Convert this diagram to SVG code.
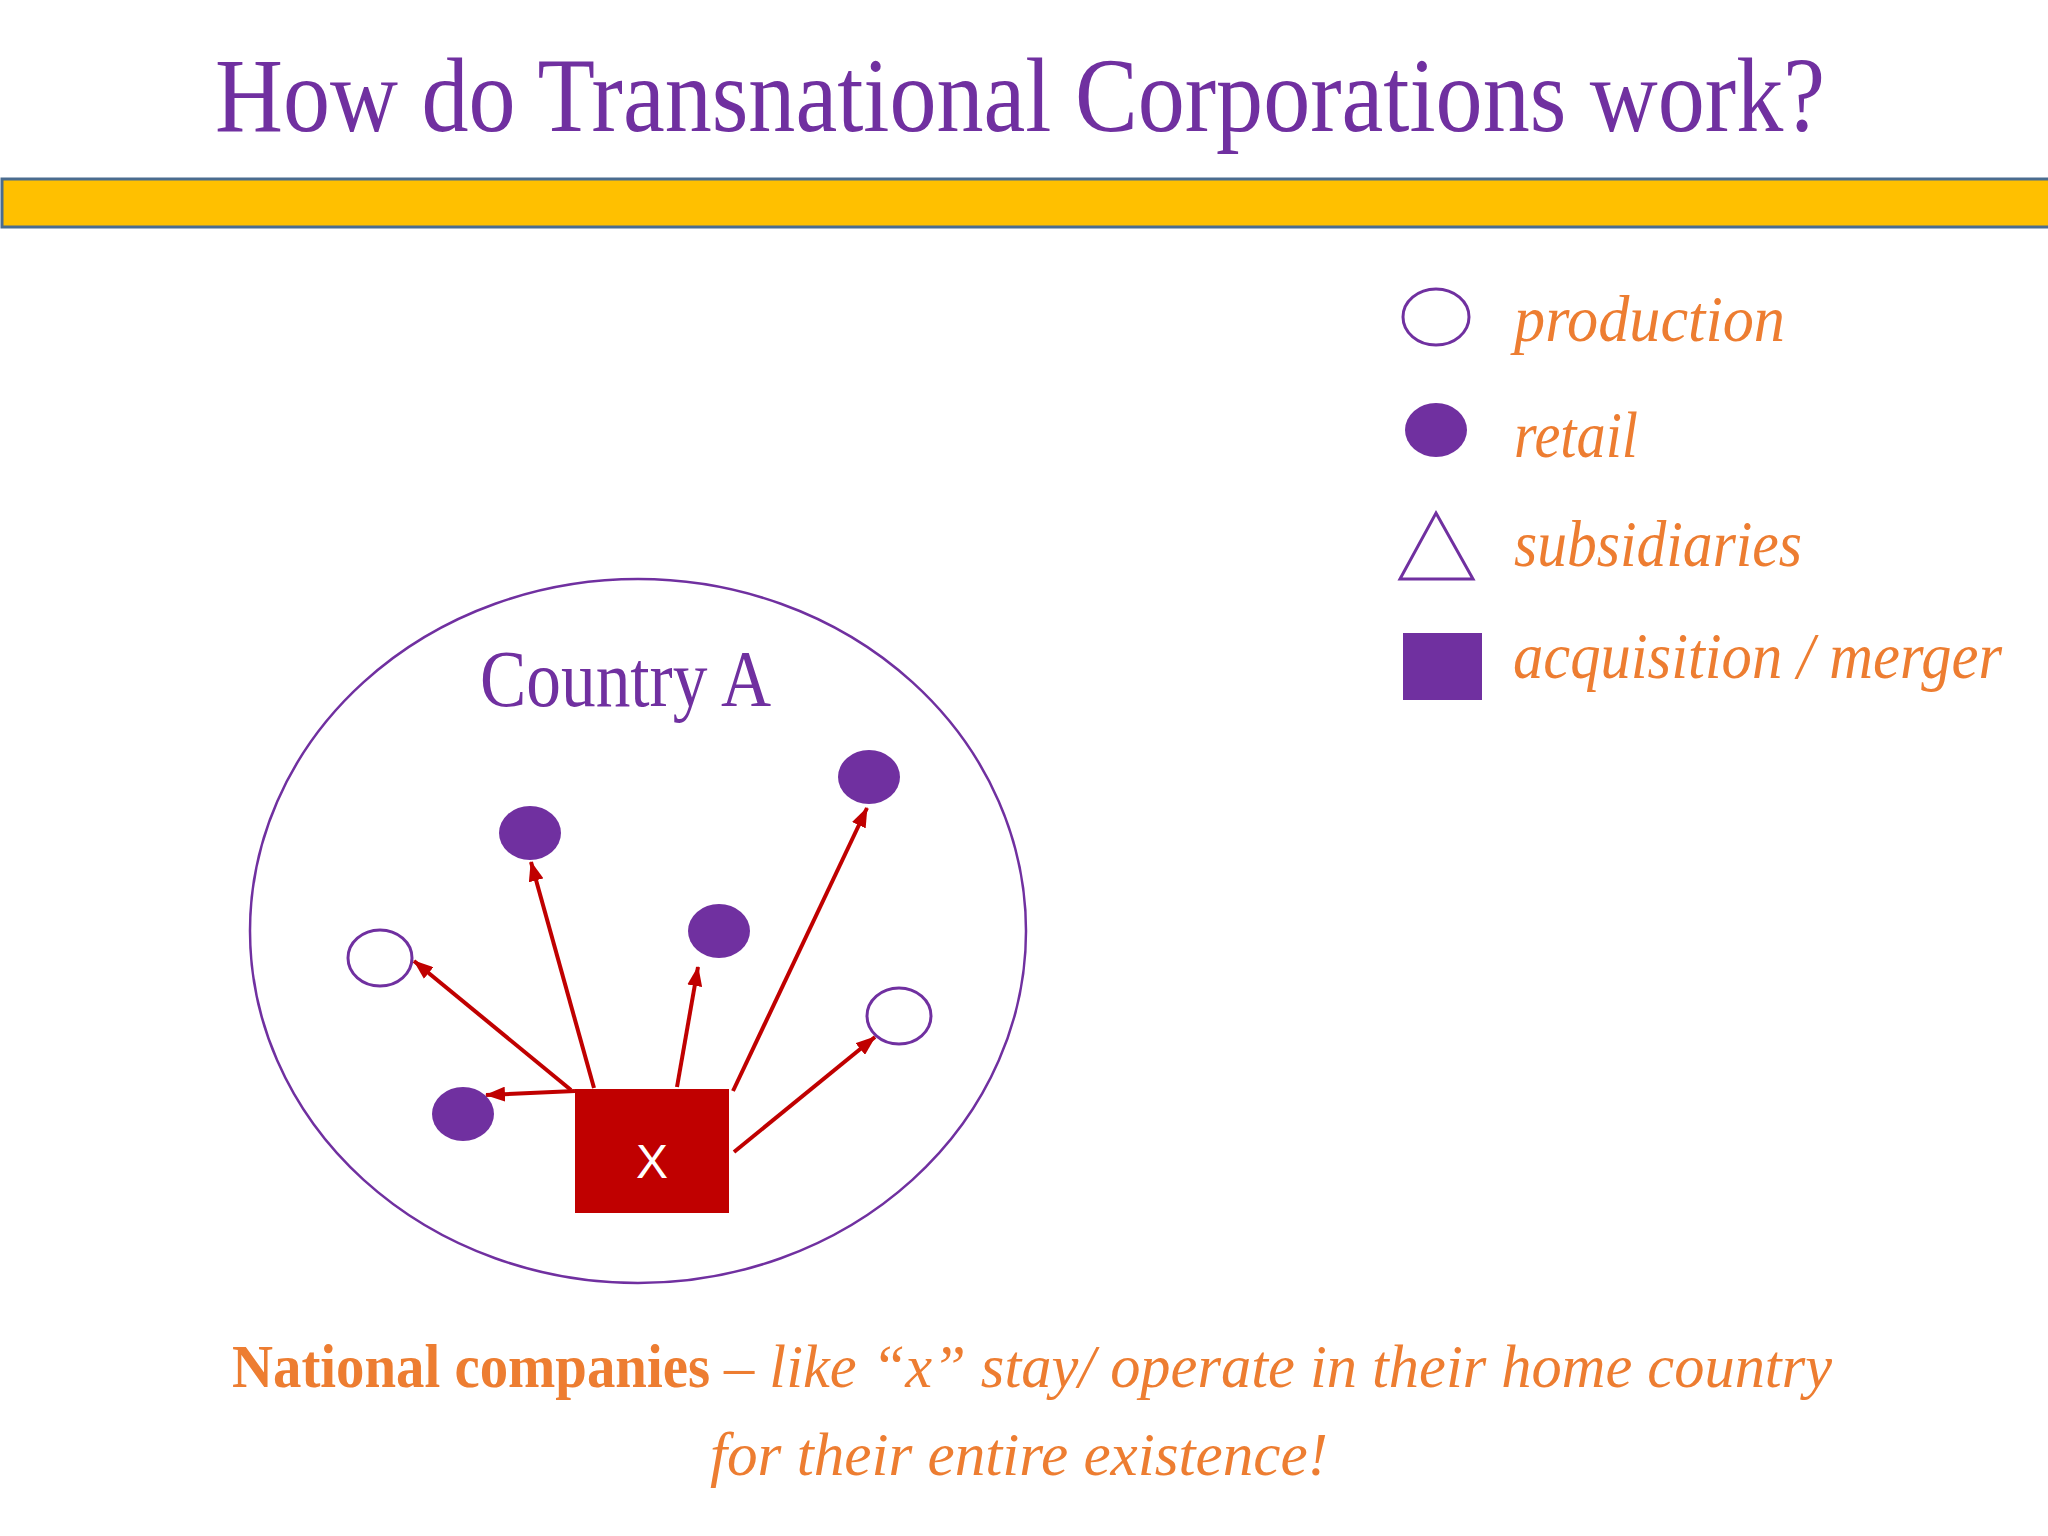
<svg xmlns="http://www.w3.org/2000/svg" width="2048" height="1536" viewBox="0 0 2048 1536">
<style>
.title{font-family:"Liberation Serif",serif;fill:#7030A0;}
.leg{font-family:"Liberation Serif",serif;font-style:italic;fill:#ED7D31;font-size:66px;}
.open{fill:#fff;stroke:#7030A0;stroke-width:3;}
.fill{fill:#7030A0;}
.arrow{stroke:#C00000;stroke-width:4;fill:none;marker-end:url(#ah);}
.bottom{font-family:"Liberation Serif",serif;fill:#ED7D31;font-size:62px;}
</style>
<defs>
<marker id="ah" markerUnits="userSpaceOnUse" markerWidth="20" markerHeight="15" viewBox="0 0 20 15" refX="19" refY="7.5" orient="auto">
<path d="M0,0 L20,7.5 L0,15 Z" fill="#C00000"/>
</marker>
</defs>
<rect width="2048" height="1536" fill="#fff"/>
<g id="title">
<text class="title" x="215" y="131" font-size="106" textLength="1610" lengthAdjust="spacingAndGlyphs">How do Transnational Corporations work?</text>
</g>
<g id="bar">
<rect x="2" y="179" width="2050" height="48" fill="#FFC000" stroke="#4A6C8F" stroke-width="3"/>
</g>
<g id="country-a">
<ellipse cx="638" cy="931" rx="388" ry="352" fill="none" stroke="#7030A0" stroke-width="2.5"/>
<text class="title" x="480" y="706" font-size="80" textLength="291" lengthAdjust="spacingAndGlyphs">Country A</text>
</g>
<g id="connectors">
<line class="arrow" x1="571" y1="1090" x2="414" y2="961"/>
<line class="arrow" x1="594" y1="1088" x2="531" y2="862"/>
<line class="arrow" x1="677" y1="1087" x2="698" y2="967"/>
<line class="arrow" x1="733" y1="1091" x2="867" y2="808"/>
<line class="arrow" x1="734" y1="1152" x2="875" y2="1037"/>
<line class="arrow" x1="575" y1="1091" x2="486" y2="1095"/>
</g>
<g id="node-retail-1"><ellipse class="fill" cx="530" cy="833" rx="31" ry="27"/></g>
<g id="node-retail-2"><ellipse class="fill" cx="869" cy="777" rx="31" ry="27"/></g>
<g id="node-retail-3"><ellipse class="fill" cx="719" cy="931" rx="31" ry="27"/></g>
<g id="node-retail-4"><ellipse class="fill" cx="463" cy="1114" rx="31" ry="27"/></g>
<g id="node-production-1"><ellipse class="open" cx="380" cy="958" rx="32" ry="28"/></g>
<g id="node-production-2"><ellipse class="open" cx="899" cy="1016" rx="32" ry="28"/></g>
<g id="node-x">
<rect x="575" y="1089" width="154" height="124" fill="#C00000"/>
<text x="652" y="1178" font-family="Liberation Sans, sans-serif" font-size="48" fill="#fff" text-anchor="middle">X</text>
</g>
<g id="legend">
<ellipse class="open" cx="1436" cy="317" rx="33" ry="28"/>
<text class="leg" x="1514" y="341" textLength="271" lengthAdjust="spacingAndGlyphs">production</text>
<ellipse class="fill" cx="1436" cy="430" rx="31" ry="27"/>
<text class="leg" x="1514" y="457" textLength="124" lengthAdjust="spacingAndGlyphs">retail</text>
<path class="open" d="M1436,513 L1473,579 L1400,579 Z"/>
<text class="leg" x="1514" y="566" textLength="288" lengthAdjust="spacingAndGlyphs">subsidiaries</text>
<rect x="1403" y="633" width="79" height="67" fill="#7030A0"/>
<text class="leg" x="1513" y="678" textLength="489" lengthAdjust="spacingAndGlyphs">acquisition / merger</text>
</g>
<g id="caption">
<text class="bottom" x="232" y="1387" font-weight="bold" textLength="478" lengthAdjust="spacingAndGlyphs">National companies</text>
<text class="bottom" x="724" y="1387" font-style="italic" textLength="1108" lengthAdjust="spacingAndGlyphs">– like “x”  stay/ operate in their home country</text>
<text class="bottom" x="710" y="1475" font-style="italic" textLength="618" lengthAdjust="spacingAndGlyphs">for their entire existence!</text>
</g>
</svg>
